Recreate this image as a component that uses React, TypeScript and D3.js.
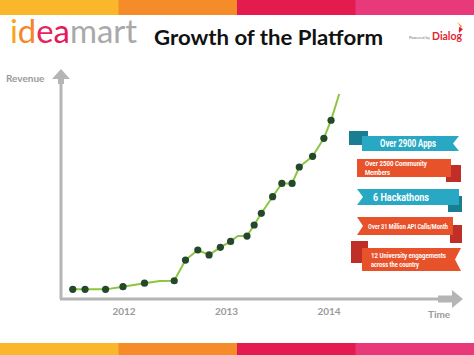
import React from 'react';
import * as d3 from 'd3';

// growth points (x in years, revenue in arbitrary units)
const years = [2011.5, 2011.62, 2011.82, 2011.99, 2012.2, 2012.35, 2012.49, 2012.6, 2012.72, 2012.83, 2012.94, 2013.04, 2013.11, 2013.2, 2013.27, 2013.34, 2013.45, 2013.54, 2013.64, 2013.71, 2013.84, 2013.95, 2014.02];
const revenue = [4.7, 4.7, 4.7, 6.0, 7.7, 8.8, 8.9, 19.0, 23.9, 21.5, 25.2, 28.1, 30.7, 30.7, 36.1, 41.8, 49.9, 56.4, 56.4, 64.4, 69.6, 78.4, 87.2];
const marked = [1, 1, 1, 1, 1, 0, 1, 1, 1, 1, 1, 1, 0, 1, 1, 1, 1, 1, 1, 1, 1, 1, 1];
const endYear = 2014.1;
const endRevenue = 100;

const tickYears = [2012, 2013, 2014];
const tickLabels = ['2012', '2013', '2014'];

const barColors = ['#fbb72c', '#f68b2a', '#e31b4f', '#e8397b'];

const bannerTexts = [
  ['Over 2900 Apps'],
  ['Over 2500 Community', 'Members'],
  ['6 Hackathons'],
  ['Over 31 Million API Calls/Month'],
  ['12 University engagements', 'across the country'],
];

const TEAL = '#29a8c4', TEAL_D = '#1b7d92', ORANGE = '#e8522b', RED_D = '#c02e28';

// ribbon geometry (layout only)
const banners = [
  { x0: 362, x1: 459, y0: 136, y1: 151, notch: 'right', fill: TEAL, back: { x: 349, y: 131, w: 19, h: 14, fill: TEAL_D }, align: 'middle', tx: 408, size: 10.5, lens: [56] },
  { x0: 357, x1: 451, y0: 159, y1: 177, notch: 'none', fill: ORANGE, back: { x: 446, y: 165, w: 15, h: 17, fill: RED_D }, align: 'start', tx: 365, size: 8, lens: [62, 25] },
  { x0: 357, x1: 459, y0: 189, y1: 205, notch: 'left', fill: TEAL, back: { x: 448, y: 196, w: 14, h: 16, fill: TEAL_D }, align: 'middle', tx: 401, size: 10.5, lens: [56] },
  { x0: 357, x1: 453, y0: 217, y1: 235, notch: 'left', fill: ORANGE, back: { x: 450, y: 225, w: 12, h: 18, fill: RED_D }, align: 'middle', tx: 408, size: 8, lens: [80] },
  { x0: 362, x1: 461, y0: 248, y1: 271, notch: 'right', fill: ORANGE, back: { x: 351, y: 241, w: 17, h: 22, fill: RED_D }, align: 'start', tx: 371, size: 8, lens: [75, 48] },
];

const narrow = 'Roboto, "Liberation Sans", sans-serif';

// natural width of a string, used to squeeze ribbon text horizontally
let ctx: CanvasRenderingContext2D | null = null;
function measure(s: string, size: number) {
  if (!ctx) ctx = document.createElement('canvas').getContext('2d');
  if (!ctx) return s.length * size * 0.55;
  ctx.font = `700 ${size}px ${narrow}`;
  return ctx.measureText(s).width;
}

function ribbonPath(b: any) {
  const d = 6;
  const ym = (b.y0 + b.y1) / 2;
  const pts: [number, number][] = [[b.x0, b.y0], [b.x1, b.y0]];
  if (b.notch === 'right') pts.push([b.x1 - d, ym]);
  pts.push([b.x1, b.y1], [b.x0, b.y1]);
  if (b.notch === 'left') pts.push([b.x0 + d, ym]);
  return 'M' + pts.map((p) => p.join(',')).join('L') + 'Z';
}

export default function App() {
  const W = 474, H = 355;
  const x = d3.scaleLinear().domain([2012, 2014]).range([124, 329]);
  const y = d3.scaleLinear().domain([0, 100]).range([299, 94]);

  const pts: [number, number][] = years.map((yr, i) => [x(yr), y(revenue[i])]);
  pts.push([x(endYear), y(endRevenue)]);
  const line = d3.line();

  const axisColor = '#b5b5b5';
  const labelColor = '#9a9a9a';
  const font = 'Lato, "Open Sans", sans-serif';

  return (
    <svg width={W} height={H} style={{ position: 'absolute', left: 0, top: 0, background: '#fff' }}>
      {barColors.map((c, i) => (
        <g key={i}>
          <rect x={i * W / 4} y={0} width={W / 4 + 0.5} height={15} fill={c} />
          <rect x={i * W / 4} y={343} width={W / 4 + 0.5} height={12} fill={c} />
        </g>
      ))}

      {/* header */}
      <text x={10} y={43} fontFamily={font} fontSize={32} fontWeight={400} textLength={127} lengthAdjust="spacingAndGlyphs">
        <tspan fill="#f9a51a">i</tspan>
        <tspan fill="#f5872a">d</tspan>
        <tspan fill="#e8245f">e</tspan>
        <tspan fill="#e3195a">a</tspan>
        <tspan fill="#a9a9ab">mart</tspan>
      </text>
      <text x={154} y={45} fontFamily={font} fontSize={21} fontWeight={700} fill="#111" textLength={229} lengthAdjust="spacingAndGlyphs">Growth of the Platform</text>
      <text x={409} y={38.5} fontFamily={font} fontSize={4} fill="#777">Powered by</text>
      <text x={432} y={39.5} fontFamily={font} fontSize={11} fontWeight={700} fill="#e0252f" textLength={30} lengthAdjust="spacingAndGlyphs">Dialog</text>
      <path d="M457,22 L462,26 L458,32 L460,26 Z" fill="#f6921e" />
      <path d="M459,27 L463,29 L459,33 Z" fill="#e31b3c" />

      {/* axes */}
      <line x1={61} y1={78} x2={61} y2={299} stroke={axisColor} strokeWidth={3} />
      <path d="M61,69 L70,79 L64,79 L64,84 L58,84 L58,79 L52,79 Z" fill={axisColor} />
      <line x1={60} y1={299} x2={442} y2={299} stroke={axisColor} strokeWidth={3} />
      <path d="M463,299 L452,290 L452,295.5 L438,295.5 L438,302.5 L452,302.5 L452,308 Z" fill={axisColor} />
      <text x={6} y={82} fontFamily={font} fontSize={10} fontWeight={700} fill={labelColor}>Revenue</text>
      <text x={428} y={318} fontFamily={font} fontSize={10} fontWeight={700} fill={labelColor}>Time</text>
      {tickYears.map((t, i) => (
        <text key={t} x={x(t)} y={315} textAnchor="middle" fontFamily={font} fontSize={10} fontWeight={700} fill={labelColor}>{tickLabels[i]}</text>
      ))}

      {/* series */}
      <path d={line(pts) || ''} fill="none" stroke="#8cc63f" strokeWidth={2} strokeLinejoin="round" />
      {years.map((yr, i) => marked[i] ? (
        <circle key={i} cx={x(yr)} cy={y(revenue[i])} r={3.6} fill="#24482a" />
      ) : null)}

      {/* ribbons */}
      {banners.map((b, i) => {
        const lines = bannerTexts[i];
        const lh = b.size + 1.2;
        const ym = (b.y0 + b.y1) / 2;
        const first = ym - ((lines.length - 1) * lh) / 2 + b.size * 0.36;
        return (
          <g key={i}>
            <rect x={b.back.x} y={b.back.y} width={b.back.w} height={b.back.h} fill={b.back.fill} />
            <path d={ribbonPath(b)} fill={b.fill} />
            {lines.map((s, j) => {
              const sx = Math.min(1, b.lens[j] / measure(s, b.size));
              return (
                <text key={j} transform={`translate(${b.tx},${first + j * lh}) scale(${sx},1)`} textAnchor={b.align}
                  fontFamily={narrow} fontSize={b.size} fontWeight={700} fill="#fff">{s}</text>
              );
            })}
          </g>
        );
      })}
    </svg>
  );
}
